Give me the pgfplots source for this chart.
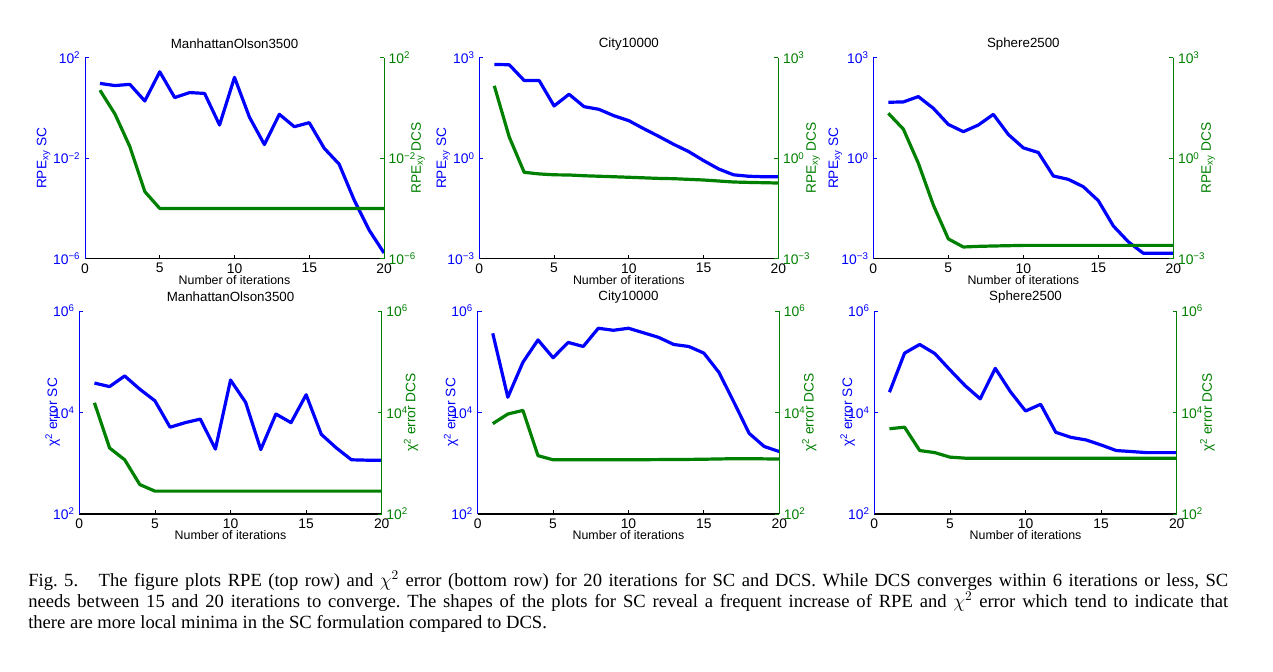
\documentclass[border=0pt]{standalone}
\usepackage{fontspec}
\setmainfont{Liberation Sans}
\newfontfamily\capfont{Liberation Serif}
\usepackage{pgfplots}
\pgfplotsset{compat=1.18}
\definecolor{mblue}{rgb}{0,0,1}
\definecolor{mgreen}{rgb}{0,0.5,0}
\newcommand\ticksize{\fontsize{10.4}{12}\selectfont}
\newcommand\titlesize{\fontsize{10}{12}\selectfont}
\newcommand\xlsize{\fontsize{9.3}{11}\selectfont}
\newcommand\ylsize{\fontsize{10.3}{12}\selectfont}
\tikzset{
  mysc/.style={mblue, line width=2.4pt, line join=round},
  mydcs/.style={mgreen, line width=2.4pt, line join=round},
}
\newcommand\lylab[2]{\node[rotate=90, font=\ylsize, text=mblue, inner sep=0pt] at ([xshift=#1]axis description cs:0,0.5) {#2};}
\newcommand\rylab[2]{\node[rotate=90, font=\ylsize, text=mgreen, inner sep=0pt] at ([xshift=#1]axis description cs:1,0.5) {#2};}
\begin{document}
\begin{tikzpicture}
\useasboundingbox (0,0) rectangle (954.75pt,503.25pt);
% ---------- Panel 1 ----------
\begin{axis}[ymode=log, scale only axis, xmin=0, xmax=20, yminorticks=false, tick align=inside, major tick length=3pt,
  axis x line*=bottom, axis y line*=left, xtick={0,5,10,15,20}, xticklabels={0,5,10,15,20},
  x axis line style={black, line width=0.9pt}, y axis line style={mblue, line width=0.6pt},
  xtick style={black, line width=0.6pt}, ytick style={mblue, line width=0.6pt},
  xticklabel style={font=\ticksize, black}, yticklabel style={font=\ticksize, mblue},
  xlabel={Number of iterations}, xlabel style={font=\xlsize, at={(axis description cs:0.5,0)}, anchor=center, yshift=-16pt},
  title style={font=\titlesize, at={(axis description cs:0.5,1)}, anchor=center, yshift=4.5pt},
  at={(63.75pt,309.2pt)}, anchor=south west, width=224.25pt, height=150.75pt,
  ymin=1e-6, ymax=1e2, ytick={1e-6,1e-2,1e2},
  yticklabels={10\textsuperscript{−6},10\textsuperscript{−2},10\textsuperscript{2}},
  title={ManhattanOlson3500},
  extra description/.code={\lylab{-31pt}{RPE\textsubscript{xy} SC}}]
\addplot[mysc] coordinates {(1,9.5)(2,7.8)(3,8.7)(4,1.9)(5,27.5)(6,2.6)(7,4.1)(8,3.8)(9,0.21)(10,16.6)(11,0.43)(12,0.035)(13,0.56)(14,0.18)(15,0.26)(16,0.025)(17,0.0058)(18,0.00022)(19,0.000014)(20,0.0000017)};
\end{axis}
\begin{axis}[ymode=log, scale only axis, xmin=0, xmax=20, yminorticks=false, tick align=inside, major tick length=3pt,
  axis x line=none, axis y line*=right,
  y axis line style={mgreen, line width=0.6pt}, ytick style={mgreen, line width=0.6pt},
  yticklabel style={font=\ticksize, mgreen},
  at={(63.75pt,309.2pt)}, anchor=south west, width=224.25pt, height=150.75pt,
  ymin=1e-6, ymax=1e2, ytick={1e-6,1e-2,1e2},
  yticklabels={10\textsuperscript{−6},10\textsuperscript{−2},10\textsuperscript{2}},
  extra description/.code={\rylab{25.5pt}{RPE\textsubscript{xy} DCS}}]
\addplot[mydcs] coordinates {(1,5.1)(2,0.58)(3,0.029)(4,0.00047)(5,0.0001)(6,0.0001)(7,0.0001)(8,0.0001)(9,0.0001)(10,0.0001)(11,0.0001)(12,0.0001)(13,0.0001)(14,0.0001)(15,0.0001)(16,0.0001)(17,0.0001)(18,0.0001)(19,0.0001)(20,0.0001)};
\end{axis}
% ---------- Panel 2 ----------
\begin{axis}[ymode=log, scale only axis, xmin=0, xmax=20, yminorticks=false, tick align=inside, major tick length=3pt,
  axis x line*=bottom, axis y line*=left, xtick={0,5,10,15,20}, xticklabels={0,5,10,15,20},
  x axis line style={black, line width=0.9pt}, y axis line style={mblue, line width=0.6pt},
  xtick style={black, line width=0.6pt}, ytick style={mblue, line width=0.6pt},
  xticklabel style={font=\ticksize, black}, yticklabel style={font=\ticksize, mblue},
  xlabel={Number of iterations}, xlabel style={font=\xlsize, at={(axis description cs:0.5,0)}, anchor=center, yshift=-16pt},
  title style={font=\titlesize, at={(axis description cs:0.5,1)}, anchor=center, yshift=4.5pt},
  at={(359.5pt,309.2pt)}, anchor=south west, width=224.25pt, height=150.75pt,
  ymin=1e-3, ymax=1e3, ytick={1e-3,1,1e3},
  yticklabels={10\textsuperscript{−3},10\textsuperscript{0},10\textsuperscript{3}},
  title={City10000},
  extra description/.code={\lylab{-27pt}{RPE\textsubscript{xy} SC}}]
\addplot[mysc] coordinates {(1,631)(2,617)(3,209)(4,209)(5,36.3)(6,81.3)(7,34.7)(8,28.8)(9,18.6)(10,13.2)(11,7.6)(12,4.5)(13,2.6)(14,1.58)(15,0.85)(16,0.48)(17,0.32)(18,0.29)(19,0.28)(20,0.28)};
\end{axis}
\begin{axis}[ymode=log, scale only axis, xmin=0, xmax=20, yminorticks=false, tick align=inside, major tick length=3pt,
  axis x line=none, axis y line*=right,
  y axis line style={mgreen, line width=0.6pt}, ytick style={mgreen, line width=0.6pt},
  yticklabel style={font=\ticksize, mgreen},
  at={(359.5pt,309.2pt)}, anchor=south west, width=224.25pt, height=150.75pt,
  ymin=1e-3, ymax=1e3, ytick={1e-3,1,1e3},
  yticklabels={10\textsuperscript{−3},10\textsuperscript{0},10\textsuperscript{3}},
  extra description/.code={\rylab{26pt}{RPE\textsubscript{xy} DCS}}]
\addplot[mydcs] coordinates {(1,145)(2,4.3)(3,0.38)(4,0.34)(5,0.32)(6,0.316)(7,0.30)(8,0.29)(9,0.28)(10,0.27)(11,0.26)(12,0.25)(13,0.245)(14,0.234)(15,0.224)(16,0.209)(17,0.195)(18,0.19)(19,0.186)(20,0.182)};
\end{axis}
% ---------- Panel 3 ----------
\begin{axis}[ymode=log, scale only axis, xmin=0, xmax=20, yminorticks=false, tick align=inside, major tick length=3pt,
  axis x line*=bottom, axis y line*=left, xtick={0,5,10,15,20}, xticklabels={0,5,10,15,20},
  x axis line style={black, line width=0.9pt}, y axis line style={mblue, line width=0.6pt},
  xtick style={black, line width=0.6pt}, ytick style={mblue, line width=0.6pt},
  xticklabel style={font=\ticksize, black}, yticklabel style={font=\ticksize, mblue},
  xlabel={Number of iterations}, xlabel style={font=\xlsize, at={(axis description cs:0.5,0)}, anchor=center, yshift=-16pt},
  title style={font=\titlesize, at={(axis description cs:0.5,1)}, anchor=center, yshift=4.5pt},
  at={(655pt,309.2pt)}, anchor=south west, width=225pt, height=150.75pt,
  ymin=1e-3, ymax=1e3, ytick={1e-3,1,1e3},
  yticklabels={10\textsuperscript{−3},10\textsuperscript{0},10\textsuperscript{3}},
  title={Sphere2500},
  extra description/.code={\lylab{-28.5pt}{RPE\textsubscript{xy} SC}}]
\addplot[mysc] coordinates {(1,46.8)(2,47.9)(3,69.2)(4,30.9)(5,10.2)(6,6.2)(7,9.8)(8,20.4)(9,5.1)(10,2.04)(11,1.48)(12,0.295)(13,0.234)(14,0.141)(15,0.054)(16,0.0095)(17,0.0032)(18,0.00145)(19,0.00145)(20,0.00145)};
\end{axis}
\begin{axis}[ymode=log, scale only axis, xmin=0, xmax=20, yminorticks=false, tick align=inside, major tick length=3pt,
  axis x line=none, axis y line*=right,
  y axis line style={mgreen, line width=0.6pt}, ytick style={mgreen, line width=0.6pt},
  yticklabel style={font=\ticksize, mgreen},
  at={(655pt,309.2pt)}, anchor=south west, width=225pt, height=150.75pt,
  ymin=1e-3, ymax=1e3, ytick={1e-3,1,1e3},
  yticklabels={10\textsuperscript{−3},10\textsuperscript{0},10\textsuperscript{3}},
  extra description/.code={\rylab{26pt}{RPE\textsubscript{xy} DCS}}]
\addplot[mydcs] coordinates {(1,21.9)(2,7.4)(3,0.71)(4,0.040)(5,0.0039)(6,0.00224)(7,0.00234)(8,0.0024)(9,0.00245)(10,0.0025)(11,0.0025)(12,0.0025)(13,0.0025)(14,0.0025)(15,0.0025)(16,0.0025)(17,0.0025)(18,0.0025)(19,0.0025)(20,0.0025)};
\end{axis}
% ---------- Panel 4 ----------
\begin{axis}[ymode=log, scale only axis, xmin=0, xmax=20, yminorticks=false, tick align=inside, major tick length=3pt,
  axis x line*=bottom, axis y line*=left, xtick={0,5,10,15,20}, xticklabels={0,5,10,15,20},
  x axis line style={black, line width=0.9pt}, y axis line style={mblue, line width=0.6pt},
  xtick style={black, line width=0.6pt}, ytick style={mblue, line width=0.6pt},
  xticklabel style={font=\ticksize, black}, yticklabel style={font=\ticksize, mblue},
  xlabel={Number of iterations}, xlabel style={font=\xlsize, at={(axis description cs:0.5,0)}, anchor=center, yshift=-16pt},
  title style={font=\titlesize, at={(axis description cs:0.5,1)}, anchor=center, yshift=4.5pt},
  at={(59.5pt,117.75pt)}, anchor=south west, width=226.8pt, height=152.25pt,
  ymin=1e2, ymax=1e6, ytick={1e2,1e4,1e6},
  yticklabels={10\textsuperscript{2},10\textsuperscript{4},10\textsuperscript{6}},
  title={ManhattanOlson3500},
  extra description/.code={\lylab{-20pt}{χ\textsuperscript{2} error SC}}]
\addplot[mysc] coordinates {(1,38000)(2,32400)(3,52500)(4,28800)(5,17000)(6,5130)(7,6310)(8,7410)(9,1900)(10,43600)(11,15800)(12,1860)(13,9330)(14,6310)(15,22400)(16,3720)(17,2000)(18,1170)(19,1150)(20,1150)};
\end{axis}
\begin{axis}[ymode=log, scale only axis, xmin=0, xmax=20, yminorticks=false, tick align=inside, major tick length=3pt,
  axis x line=none, axis y line*=right,
  y axis line style={mgreen, line width=0.6pt}, ytick style={mgreen, line width=0.6pt},
  yticklabel style={font=\ticksize, mgreen},
  at={(59.5pt,117.75pt)}, anchor=south west, width=226.8pt, height=152.25pt,
  ymin=1e2, ymax=1e6, ytick={1e2,1e4,1e6},
  yticklabels={10\textsuperscript{2},10\textsuperscript{4},10\textsuperscript{6}},
  extra description/.code={\rylab{22pt}{χ\textsuperscript{2} error DCS}}]
\addplot[mydcs] coordinates {(1,15500)(2,2000)(3,1170)(4,380)(5,282)(6,282)(7,282)(8,282)(9,282)(10,282)(11,282)(12,282)(13,282)(14,282)(15,282)(16,282)(17,282)(18,282)(19,282)(20,282)};
\end{axis}
% ---------- Panel 5 ----------
\begin{axis}[ymode=log, scale only axis, xmin=0, xmax=20, yminorticks=false, tick align=inside, major tick length=3pt,
  axis x line*=bottom, axis y line*=left, xtick={0,5,10,15,20}, xticklabels={0,5,10,15,20},
  x axis line style={black, line width=0.9pt}, y axis line style={mblue, line width=0.6pt},
  xtick style={black, line width=0.6pt}, ytick style={mblue, line width=0.6pt},
  xticklabel style={font=\ticksize, black}, yticklabel style={font=\ticksize, mblue},
  xlabel={Number of iterations}, xlabel style={font=\xlsize, at={(axis description cs:0.5,0)}, anchor=center, yshift=-16pt},
  title style={font=\titlesize, at={(axis description cs:0.5,1)}, anchor=center, yshift=4.5pt},
  at={(358.25pt,117.75pt)}, anchor=south west, width=226.2pt, height=152.25pt,
  ymin=1e2, ymax=1e6, ytick={1e2,1e4,1e6},
  yticklabels={10\textsuperscript{2},10\textsuperscript{4},10\textsuperscript{6}},
  title={City10000},
  extra description/.code={\lylab{-20pt}{χ\textsuperscript{2} error SC}}]
\addplot[mysc] coordinates {(1,363000)(2,20000)(3,97700)(4,269000)(5,120000)(6,240000)(7,200000)(8,457000)(9,417000)(10,457000)(11,372000)(12,302000)(13,219000)(14,200000)(15,148000)(16,61700)(17,15800)(18,3890)(19,2140)(20,1700)};
\end{axis}
\begin{axis}[ymode=log, scale only axis, xmin=0, xmax=20, yminorticks=false, tick align=inside, major tick length=3pt,
  axis x line=none, axis y line*=right,
  y axis line style={mgreen, line width=0.6pt}, ytick style={mgreen, line width=0.6pt},
  yticklabel style={font=\ticksize, mgreen},
  at={(358.25pt,117.75pt)}, anchor=south west, width=226.2pt, height=152.25pt,
  ymin=1e2, ymax=1e6, ytick={1e2,1e4,1e6},
  yticklabels={10\textsuperscript{2},10\textsuperscript{4},10\textsuperscript{6}},
  extra description/.code={\rylab{22.5pt}{χ\textsuperscript{2} error DCS}}]
\addplot[mydcs] coordinates {(1,6030)(2,9330)(3,11000)(4,1410)(5,1170)(6,1170)(7,1170)(8,1170)(9,1170)(10,1170)(11,1175)(12,1180)(13,1185)(14,1190)(15,1200)(16,1215)(17,1230)(18,1230)(19,1220)(20,1210)};
\end{axis}
% ---------- Panel 6 ----------
\begin{axis}[ymode=log, scale only axis, xmin=0, xmax=20, yminorticks=false, tick align=inside, major tick length=3pt,
  axis x line*=bottom, axis y line*=left, xtick={0,5,10,15,20}, xticklabels={0,5,10,15,20},
  x axis line style={black, line width=0.9pt}, y axis line style={mblue, line width=0.6pt},
  xtick style={black, line width=0.6pt}, ytick style={mblue, line width=0.6pt},
  xticklabel style={font=\ticksize, black}, yticklabel style={font=\ticksize, mblue},
  xlabel={Number of iterations}, xlabel style={font=\xlsize, at={(axis description cs:0.5,0)}, anchor=center, yshift=-16pt},
  title style={font=\titlesize, at={(axis description cs:0.5,1)}, anchor=center, yshift=4.5pt},
  at={(655.75pt,117.75pt)}, anchor=south west, width=226.8pt, height=152.25pt,
  ymin=1e2, ymax=1e6, ytick={1e2,1e4,1e6},
  yticklabels={10\textsuperscript{2},10\textsuperscript{4},10\textsuperscript{6}},
  title={Sphere2500},
  extra description/.code={\lylab{-20pt}{χ\textsuperscript{2} error SC}}]
\addplot[mysc] coordinates {(1,25100)(2,148000)(3,219000)(4,145000)(5,69200)(6,33900)(7,18600)(8,74100)(9,25700)(10,10700)(11,14500)(12,4070)(13,3240)(14,2880)(15,2290)(16,1780)(17,1700)(18,1620)(19,1620)(20,1620)};
\end{axis}
\begin{axis}[ymode=log, scale only axis, xmin=0, xmax=20, yminorticks=false, tick align=inside, major tick length=3pt,
  axis x line=none, axis y line*=right,
  y axis line style={mgreen, line width=0.6pt}, ytick style={mgreen, line width=0.6pt},
  yticklabel style={font=\ticksize, mgreen},
  at={(655.75pt,117.75pt)}, anchor=south west, width=226.8pt, height=152.25pt,
  ymin=1e2, ymax=1e6, ytick={1e2,1e4,1e6},
  yticklabels={10\textsuperscript{2},10\textsuperscript{4},10\textsuperscript{6}},
  extra description/.code={\rylab{23pt}{χ\textsuperscript{2} error DCS}}]
\addplot[mydcs] coordinates {(1,4790)(2,5130)(3,1780)(4,1620)(5,1320)(6,1260)(7,1260)(8,1260)(9,1260)(10,1260)(11,1260)(12,1260)(13,1260)(14,1260)(15,1260)(16,1260)(17,1260)(18,1260)(19,1260)(20,1260)};
\end{axis}
% ---------- Caption ----------
\node[anchor=base west, inner sep=0pt] at (21pt,63.75pt) {\parbox[t]{900pt}{\capfont\fontsize{13.95}{15.75}\selectfont\tolerance=9999\parindent=0pt\frenchspacing
Fig.~5.\hspace{1.1em}The figure plots RPE (top row) and $\chi^2$ error (bottom row) for 20 iterations for SC and DCS. While DCS converges within 6 iterations or less, SC\linebreak
needs between 15 and 20 iterations to converge. The shapes of the plots for SC reveal a frequent increase of RPE and $\chi^2$ error which tend to indicate that\linebreak
there are more local minima in the SC formulation compared to DCS.}};
\end{tikzpicture}
\end{document}
